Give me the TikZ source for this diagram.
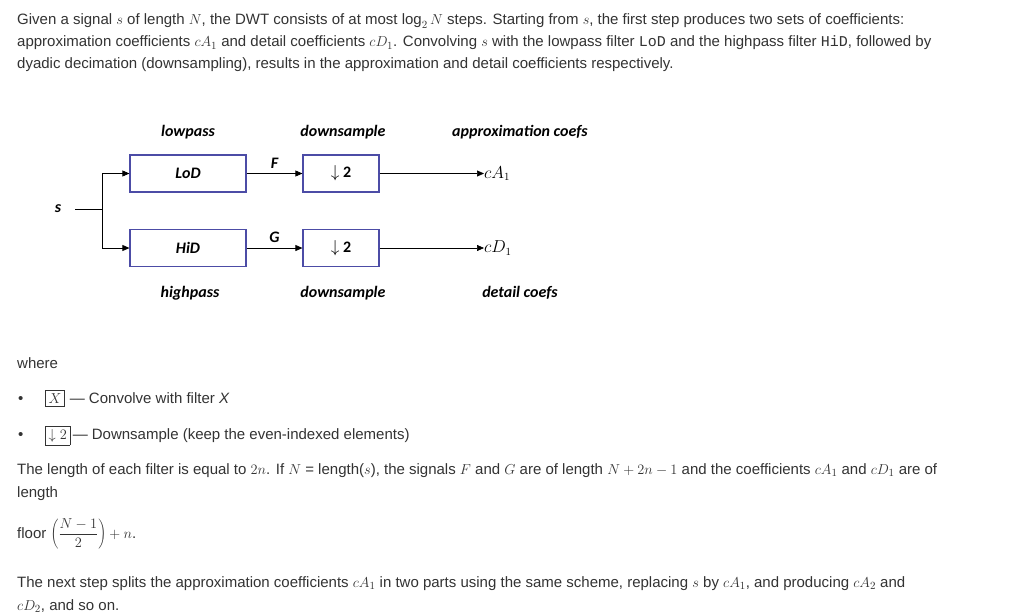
\documentclass[tikz,border=0pt]{standalone}
\usepackage{fontspec}
\setmainfont{Liberation Sans}
\newfontfamily\calfnt{Carlito}
\newfontfamily\monofnt{Liberation Mono}
\usetikzlibrary{arrows.meta}
\begin{document}
\begin{tikzpicture}[x=1pt,y=-1pt,
 txt/.style={anchor=base west,inner sep=0pt,font=\fontsize{15}{18}\selectfont,text=black!80},
 lab/.style={inner sep=0pt,font=\calfnt\bfseries\itshape\fontsize{16}{18}\selectfont},
 blk/.style={draw=blue!50!black!70,line width=1.2pt,minimum width=116pt,minimum height=37pt,inner sep=0pt,font=\calfnt\bfseries\itshape\fontsize{16}{18}\selectfont},
 dblk/.style={blk,minimum width=76pt,font=\calfnt\bfseries\fontsize{16}{18}\selectfont},
 arr/.style={-{Triangle[length=7pt,width=6pt]},line width=0.7pt}]
\useasboundingbox (0,0) rectangle (1011,615);
\fill[white] (0,0) rectangle (1011,615);
\node[txt] (l1) at (17,25) {Given a signal $s$ of length $N$, the DWT consists of at most $\log_2 N$ steps. Starting from $s$, the first step produces two sets of coefficients:};
\node[txt] (l2) at (17,47) {approximation coefficients $cA_1$ and detail coefficients $cD_1$. Convolving $s$ with the lowpass filter {\monofnt LoD} and the highpass filter {\monofnt HiD}, followed by};
\node[txt] (l3) at (17,69) {dyadic decimation (downsampling), results in the approximation and detail coefficients respectively.};
% diagram
\node[blk] (lod) at (188,173.5) {LoD};
\node[blk] (hid) at (188,248) {HiD};
\node[dblk] (d1) at (341,173.5) {$\downarrow$ 2};
\node[dblk] (d2) at (341,248) {$\downarrow$ 2};
\node[lab] (s) at (58,209) {s};
\coordinate (j) at (102,209);
\node[lab,anchor=west] (ca) at (484,173.5) {$cA_1$};
\node[lab,anchor=west] (cd) at (484,248) {$cD_1$};
\draw[line width=0.7pt] (75,209) -- (j);
\draw[arr] (j) |- (lod.west);
\draw[arr] (j) |- (hid.west);
\draw[arr] (lod) -- node[lab,above=5pt] (F) {F} (d1);
\draw[arr] (hid) -- node[lab,above=5pt] (G) {G} (d2);
\draw[arr] (d1) -- (ca);
\draw[arr] (d2) -- (cd);
\node[lab] (t1) at (188,132) {lowpass};
\node[lab] (t2) at (343,132) {downsample};
\node[lab] (t3) at (520,132) {approximation coefs};
\node[lab] (b1) at (190,293) {highpass};
\node[lab] (b2) at (343,293) {downsample};
\node[lab] (b3) at (520,293) {detail coefs};
% lower text
\node[txt] (w) at (17,368) {where};
\node[txt] (bu1) at (18,403) {•};
\node[txt] (bu2) at (18,439) {•};
\node[txt] (x1) at (45,403) {\fbox{\rule{0pt}{9pt}$X$}\,\,— Convolve with filter \textit{X}};
\node[txt] (x2) at (45,439) {\fbox{\rule{0pt}{9pt}$\downarrow 2$}\,— Downsample (keep the even-indexed elements)};
\node[txt] (l4) at (17,474) {The length of each filter is equal to $2n$. If $N$ = length($s$), the signals $F$ and $G$ are of length $N+2n-1$ and the coefficients $cA_1$ and $cD_1$ are of};
\node[txt] (l5) at (17,497) {length};
\node[txt] (fl) at (17,538) {floor $\displaystyle\left(\frac{N-1}{2}\right)+n$.};
\node[txt] (l6) at (17,587) {The next step splits the approximation coefficients $cA_1$ in two parts using the same scheme, replacing $s$ by $cA_1$, and producing $cA_2$ and};
\node[txt] (l7) at (17,610) {$cD_2$, and so on.};
\end{tikzpicture}
\end{document}
